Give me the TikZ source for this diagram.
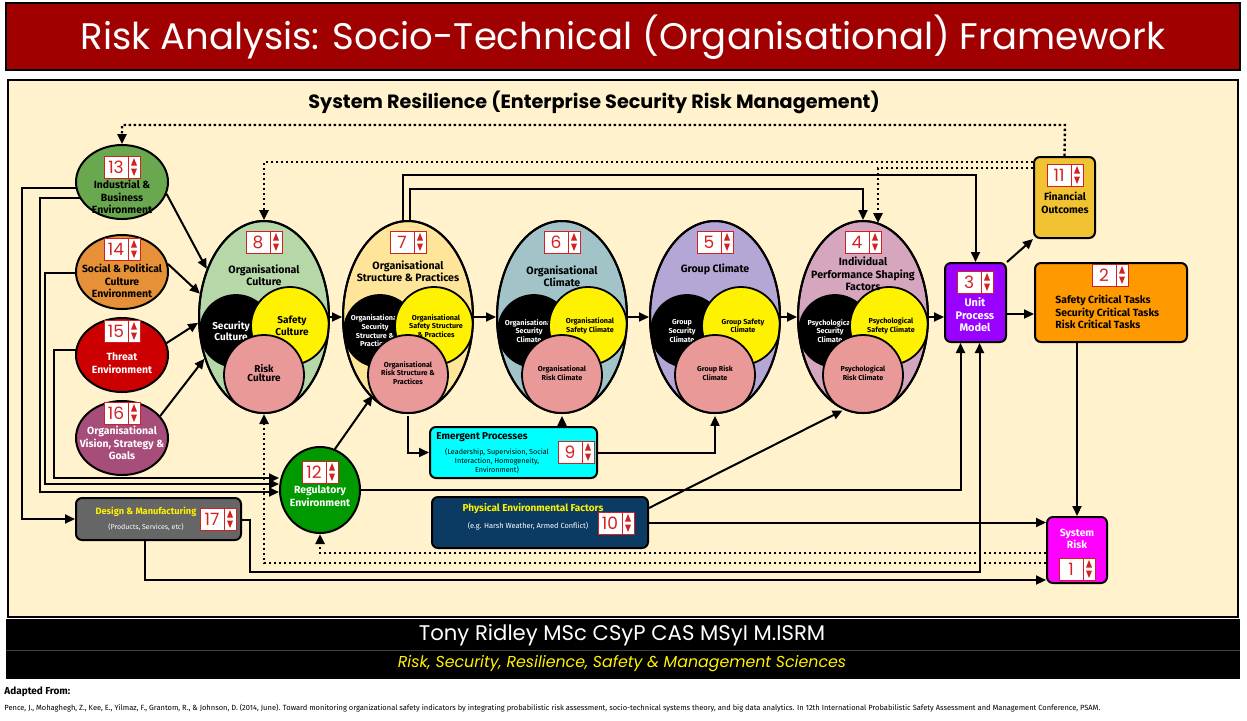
\documentclass[tikz,border=0pt]{standalone}
\usepackage{fontspec}
\setmainfont{Fira Sans}
\newfontfamily\pop{Poppins}
\usetikzlibrary{shapes.geometric,arrows.meta,calc}
\pgfdeclarelayer{panel}\pgfdeclarelayer{bg}
\pgfsetlayers{panel,bg,main}
\definecolor{titlered}{HTML}{A00000}
\definecolor{cream}{HTML}{FFF2CC}
\definecolor{bred}{HTML}{D32020}
\definecolor{c13}{HTML}{6AA84F}
\definecolor{c14}{HTML}{E69138}
\definecolor{c15}{HTML}{CC0000}
\definecolor{c16}{HTML}{A64D79}
\definecolor{c8}{HTML}{B6D7A8}
\definecolor{c7}{HTML}{FFE599}
\definecolor{c6}{HTML}{A2C4C9}
\definecolor{c5}{HTML}{B4A7D6}
\definecolor{c4}{HTML}{D5A6BD}
\definecolor{pinkc}{HTML}{EA9999}
\definecolor{c3}{HTML}{9900FF}
\definecolor{c11}{HTML}{F1C232}
\definecolor{c2}{HTML}{FF9900}
\definecolor{c1}{HTML}{FF00FF}
\definecolor{c9}{HTML}{00FFFF}
\definecolor{c10}{HTML}{0B3B63}
\definecolor{c12}{HTML}{009900}
\definecolor{c17}{HTML}{666666}
\newcommand\cf{\fontsize{5}{6}\selectfont}
\tikzset{
 pics/badge/.style={code={
  \draw[bred, fill=white, line width=0.5pt] (-18,-11) rectangle (18,11);
  \draw[bred, line width=0.4pt] (6,-11) -- (6,11);
  \node[text=bred, font=\pop\fontsize{8.5}{8.5}\selectfont, inner sep=0] at (-6,0.5) {#1};
  \fill[bred] (12,-9) -- (9,-1.5) -- (15,-1.5) -- cycle;
  \fill[bred] (12,9) -- (9,1.5) -- (15,1.5) -- cycle;
 }},
 conn/.style={line width=1pt, -{Triangle[length=5pt,width=4.5pt]}},
 dconn/.style={conn, line width=1.2pt, dash pattern=on 1.2pt off 1.3pt},
 ell/.style={ellipse, draw, line width=1pt, inner sep=0},
 circ/.style={circle, draw, line width=0.9pt, inner sep=0},
 box/.style={rectangle, rounded corners=3pt, draw, line width=1pt, inner sep=0},
 sub/.style={font=\bfseries\fontsize{3.6}{4.3}\selectfont, align=center, inner sep=0},
 ttl/.style={font=\bfseries\fontsize{5.3}{6.2}\selectfont, align=center, inner sep=0},
 lbl/.style={font=\bfseries\fontsize{5.2}{6.2}\selectfont, align=center, inner sep=0},
}
\newcommand\ellblock[9]{%
 \node[ell, fill=#3, minimum width=65pt, minimum height=96pt] (#1) at (#2,317) {};
 \begin{scope}
  \clip (#2,317) ellipse [x radius=32.5pt, y radius=48pt];
  \node[circ, fill=black, minimum size=36pt] (#1b) at (#2-28,331) {};
  \node[sub, text=white] at (#2-33,331) {#7};
  \node[circ, fill=yellow, minimum size=39pt] (#1y) at (#2+26,326) {};
  \node[sub] at (#2+28,326) {#8};
  \node[circ, fill=pinkc, minimum size=40pt] (#1r) at (#2,375) {};
  \node[sub] at (#2,373) {#9};
 \end{scope}
 \draw[line width=1pt] (#2,317) ellipse [x radius=32.5pt, y radius=48pt];
 \pic at (#2,242) {badge=#4};
 \node[ttl] at (#2,#6) {#5};
}
\begin{document}
\begin{tikzpicture}[x=0.5pt,y=-0.5pt]
\useasboundingbox (0,0) rectangle (1247,720);
\begin{pgfonlayer}{panel}
 \fill[white] (0,0) rectangle (1247,720);
 \draw[fill=titlered, line width=1pt] (6,3) rectangle (1240,70);
 \draw[fill=cream, line width=1pt] (8,80) rectangle (1238,617);
 \fill[black] (6,619) rectangle (1240,679);
 \draw[gray!50!black, line width=0.5pt] (6,650) -- (1240,650);
\end{pgfonlayer}
\node[font=\pop\fontsize{18.5}{18.5}\selectfont, text=white] (title) at (623,37) {Risk Analysis: Socio-Technical (Organisational) Framework};
\node[font=\pop\bfseries\fontsize{9.6}{9.6}\selectfont] (subtitle) at (594,102) {System Resilience (Enterprise Security Risk Management)};
\node[font=\pop\fontsize{10.6}{10.6}\selectfont, text=white] (author) at (622,635) {Tony Ridley MSc CSyP CAS MSyI M.ISRM};
\node[font=\pop\itshape\fontsize{7.9}{7.9}\selectfont, text=yellow] (tag) at (622,664) {Risk, Security, Resilience, Safety \& Management Sciences};
\node[font=\bfseries\fontsize{5}{5}\selectfont, anchor=west, inner sep=0] (adapt) at (4,692) {Adapted From:};
\node[font=\fontsize{3.75}{3.75}\selectfont, anchor=west, inner sep=0] (ref) at (4,708) {Pence, J., Mohaghegh, Z., Kee, E., Yilmaz, F., Grantom, R., \& Johnson, D. (2014, June). Toward monitoring organizational safety indicators by integrating probabilistic risk assessment, socio-technical systems theory, and big data analytics. In 12th International Probabilistic Safety Assessment and Management Conference, PSAM.};

% external environment ellipses
\node[ell, fill=c13, minimum width=46pt, minimum height=37pt] (n13) at (122,182) {};
\pic at (122,167) {badge=13};
\node[lbl] at (122,197) {Industrial \&\\Business\\Environment};
\node[ell, fill=c14, minimum width=46pt, minimum height=37pt] (n14) at (122,272) {};
\pic at (122,249) {badge=14};
\node[lbl] at (122,281) {Social \& Political\\Culture\\Environment};
\node[ell, fill=c15, minimum width=46pt, minimum height=37pt] (n15) at (122,355) {};
\pic at (122,331) {badge=15};
\node[lbl, text=white] at (122,363) {Threat\\Environment};
\node[ell, fill=c16, minimum width=46pt, minimum height=37pt] (n16) at (122,438) {};
\pic at (122,413) {badge=16};
\node[lbl, text=white] at (122,443) {Organisational\\Vision, Strategy \&\\Goals};

% main chain
\ellblock{n8}{264}{c8}{8}{Organisational\\Culture}{275}{\cf Security\\\cf Culture}{\cf Safety\\\cf Culture}{\cf Risk\\\cf Culture}
\ellblock{n7}{408}{c7}{7}{Organisational\\Structure \& Practices}{271}{Organisational\\Security\\Structure \&\\Practices}{Organisational\\Safety Structure\\\& Practices}{Organisational\\Risk Structure \&\\Practices}
\ellblock{n6}{562}{c6}{6}{Organisational\\Climate}{276}{Organisational\\Security\\Climate}{Organisational\\Safety Climate}{Organisational\\Risk Climate}
\ellblock{n5}{715}{c5}{5}{Group Climate}{269}{Group\\Security\\Climate}{Group Safety\\Climate}{Group Risk\\Climate}
\ellblock{n4}{863}{c4}{4}{Individual\\Performance Shaping\\Factors}{274}{Psychological\\Security\\Climate}{Psychological\\Safety Climate}{Psychological\\Risk Climate}

% boxes
\node[box, fill=c3, minimum width=30.5pt, minimum height=39.5pt] (n3) at (975.5,302.5) {};
\pic at (975,282) {badge=3};
\node[lbl, text=white, font=\bfseries\fontsize{5.5}{6.3}\selectfont] at (975,315) {Unit\\Process\\Model};
\node[box, fill=c11, minimum width=30.5pt, minimum height=40.5pt] (n11) at (1064.5,197.5) {};
\pic at (1065,175) {badge=11};
\node[lbl] at (1065,203) {Financial\\Outcomes};
\node[box, fill=c2, minimum width=76pt, minimum height=39.5pt] (n2) at (1111,302.5) {};
\pic at (1110,275) {badge=2};
\node[lbl, align=left, anchor=west] at (1055,312) {Safety Critical Tasks\\Security Critical Tasks\\Risk Critical Tasks};
\node[box, fill=c1, minimum width=30pt, minimum height=33pt] (n1) at (1077,550) {};
\node[lbl, text=white] at (1077,539) {System\\Risk};
\pic at (1077,569) {badge=1};
\node[box, fill=c9, minimum width=83.5pt, minimum height=25.5pt] (n9) at (513.5,452.5) {};
\node[font=\bfseries\fontsize{5}{5}\selectfont, anchor=west, inner sep=0] at (436,437) {Emergent Processes};
\node[font=\fontsize{3.6}{4.6}\selectfont, align=center, inner sep=0] at (497,461) {(Leadership, Supervision, Social\\Interaction, Homogeneity,\\Environment)};
\pic at (576,452) {badge=9};
\node[box, fill=c10, minimum width=108pt, minimum height=25.5pt] (n10) at (540,522.5) {};
\node[font=\bfseries\fontsize{5}{5}\selectfont, text=yellow, inner sep=0] at (533,509) {Physical Environmental Factors};
\node[font=\fontsize{3.7}{3.7}\selectfont, text=white, inner sep=0] at (528,526) {(e.g. Harsh Weather, Armed Conflict)};
\pic at (616,523) {badge=10};
\node[ell, fill=c12, minimum width=40pt, minimum height=43pt] (n12) at (320,490) {};
\pic at (320,472) {badge=12};
\node[lbl, text=white] at (320,496) {Regulatory\\Environment};
\node[box, fill=c17, minimum width=82.5pt, minimum height=21pt] (n17) at (158.5,519) {};
\node[font=\bfseries\fontsize{4.6}{4.6}\selectfont, text=yellow, inner sep=0] at (146,512) {Design \& Manufacturing};
\node[font=\fontsize{3.5}{3.5}\selectfont, text=white, inner sep=0] at (146,527) {(Products, Services, etc)};
\pic at (218,519) {badge=17};

\begin{pgfonlayer}{bg}
% inputs to culture
\draw[conn] (n13.-15) -- (n8.140);
\draw[conn] (n14.10) -- (n8.160);
\draw[conn] (n15.15) -- (n8.185);
\draw[conn] (n16.30) -- (n8.215);
% chain
\draw[conn] (n8.east) -- (n7.west);
\draw[conn] (n7.east) -- (n6.west);
\draw[conn] (n6.east) -- (n5.west);
\draw[conn] (n5.east) -- (n4.west);
\draw[conn] (n4.east) -- (n3.west |- n4.east);
\draw[conn] (n3.east |- 0,314) -- (n2.west |- 0,314);
\draw[conn] (n3.north east) -- (n11.south west);
\draw[conn] (n1.north |- n2.south) -- (n1.north);
% regulatory & emergent
\draw[conn] (n12.70) -- (n7r.210);
\draw[conn] (n7r.south) |- (n9.west);
\draw[conn] (n9.north -| n6r.south) -- (n6r.south);
\draw[conn] (n9.east) -| (n5r.south);
\draw[conn] ($(n10.north east)+(0,12)$) -- (n4r.240);
\draw[conn] (n10.east) -- (n1.west |- n10.east);
\draw[conn] (n12.east) -| ($(n3.south)+(-15,0)$);
\draw[conn] (n17.east |- 0,520) -- (250,520) -- (250,572) -| ($(n3.south)+(4,0)$);
\draw[conn] (n17.south -| 145,0) |- (n1.west |- 0,580);
% from structure top
\draw[conn] ($(n7.north)+(-5,2)$) -- (403,175) -| (n3.north);
\draw[conn] ($(n7.north)+(2,2)$) -- (410,189) -| (n4.north);
% dotted feedback
\draw[dconn] (n11.north) -- (1065,125) -| (n13.north);
\draw[dconn] (n11.west |- 0,162) -| (n8.north);
\draw[dconn] (n11.west |- 0,168) -| ($(n4.north)+(15,3)$);
\draw[dconn] (n1.west |- 0,553) -| (n12.south);
\draw[dconn] (n1.west |- 0,563) -| (n8.south);
% left feeds
\draw[conn] (n13.center |- 0,188) -- (22,188) |- (n17.west);
\draw[conn] (n13.center |- 0,198) -- (40,198) |- (n12.west |- 0,492);
\draw[conn] (n14.center |- 0,273) -- (45,273) |- (n12.west |- 0,484);
\draw[conn] (n15.center |- 0,350) -- (54,350) |- (n12.west |- 0,478);
\end{pgfonlayer}
\end{tikzpicture}
\end{document}
